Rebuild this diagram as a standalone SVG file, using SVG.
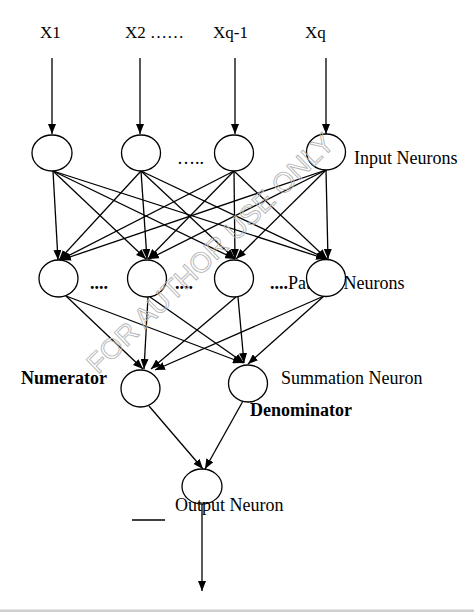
<svg xmlns="http://www.w3.org/2000/svg" width="474" height="612" viewBox="0 0 474 612">
<style>
.t{font-family:"Liberation Serif","Times New Roman",serif;font-size:18px;fill:#000}
.b{font-weight:bold}
.n{fill:#fff;stroke:#000;stroke-width:1.3}
.c line{stroke:#000;stroke-width:1.3}
.wm{font-family:"Liberation Sans",Arial,sans-serif;font-size:28px;fill:none;stroke:#b4b4b4;stroke-width:0.9}
</style>
<defs>
<marker id="ah" markerUnits="userSpaceOnUse" markerWidth="10" markerHeight="8" refX="10" refY="4" orient="auto">
<path d="M0,0 L10,4 L0,8 z" fill="#000"/>
</marker>
</defs>
<rect width="474" height="612" fill="#fff"/>
<rect x="0" y="609.5" width="474" height="2.5" fill="#cfcfcf"/>
<g id="labels">
<text class="t" x="40" y="38" style="font-size:17px">X1</text>
<text class="t" x="125" y="38" style="font-size:17px">X2 ……</text>
<text class="t" x="213" y="38" style="font-size:17px">Xq-1</text>
<text class="t" x="305" y="38" style="font-size:17px">Xq</text>
<text class="t" x="177" y="164">…..</text>
<text class="t" x="354" y="164">Input Neurons</text>
<text class="t b" x="90" y="289">....</text>
<text class="t b" x="175" y="289">....</text>
<text class="t" x="270" y="289"><tspan font-weight="bold">....</tspan>Pattern Neurons</text>
<text class="t b" x="21" y="384">Numerator</text>
<text class="t" x="281" y="384">Summation Neuron</text>
<text class="t b" x="250" y="416">Denominator</text>
</g>
<g id="connectors" class="c">
<line x1="52" y1="58" x2="52" y2="134" marker-end="url(#ah)"/>
<line x1="140" y1="58" x2="140" y2="134" marker-end="url(#ah)"/>
<line x1="235" y1="58" x2="235" y2="134" marker-end="url(#ah)"/>
<line x1="326" y1="58" x2="326" y2="134" marker-end="url(#ah)"/>
<line x1="53" y1="171" x2="58" y2="260" marker-end="url(#ah)"/>
<line x1="53" y1="171" x2="146" y2="259" marker-end="url(#ah)"/>
<line x1="53" y1="171" x2="235" y2="259" marker-end="url(#ah)"/>
<line x1="53" y1="171" x2="326" y2="259" marker-end="url(#ah)"/>
<line x1="141" y1="171" x2="59" y2="260" marker-end="url(#ah)"/>
<line x1="141" y1="171" x2="147" y2="259" marker-end="url(#ah)"/>
<line x1="141" y1="171" x2="235" y2="259" marker-end="url(#ah)"/>
<line x1="141" y1="171" x2="327" y2="259" marker-end="url(#ah)"/>
<line x1="234" y1="171" x2="60" y2="260" marker-end="url(#ah)"/>
<line x1="234" y1="171" x2="148" y2="259" marker-end="url(#ah)"/>
<line x1="234" y1="171" x2="235" y2="259" marker-end="url(#ah)"/>
<line x1="234" y1="171" x2="327" y2="259" marker-end="url(#ah)"/>
<line x1="326" y1="170" x2="61" y2="260" marker-end="url(#ah)"/>
<line x1="326" y1="170" x2="149" y2="259" marker-end="url(#ah)"/>
<line x1="326" y1="170" x2="236" y2="259" marker-end="url(#ah)"/>
<line x1="326" y1="170" x2="328" y2="259" marker-end="url(#ah)"/>
<line x1="66" y1="296" x2="143" y2="369" marker-end="url(#ah)"/>
<line x1="66" y1="296" x2="243" y2="363" marker-end="url(#ah)"/>
<line x1="148" y1="297" x2="144" y2="369" marker-end="url(#ah)"/>
<line x1="150" y1="297" x2="244" y2="363" marker-end="url(#ah)"/>
<line x1="236" y1="297" x2="151" y2="369" marker-end="url(#ah)"/>
<line x1="238" y1="297" x2="244" y2="363" marker-end="url(#ah)"/>
<line x1="324" y1="296" x2="155" y2="370" marker-end="url(#ah)"/>
<line x1="324" y1="296" x2="248" y2="364" marker-end="url(#ah)"/>
<line x1="149" y1="406" x2="203" y2="469" marker-end="url(#ah)"/>
<line x1="243" y1="401" x2="205" y2="469" marker-end="url(#ah)"/>
<line x1="202" y1="504" x2="202" y2="591" marker-end="url(#ah)"/>
<line x1="132" y1="520" x2="165" y2="520"/>
</g>
<g id="input-1"><ellipse class="n" cx="52" cy="153" rx="20" ry="18"/></g>
<g id="input-2"><ellipse class="n" cx="141" cy="153" rx="19.5" ry="18"/></g>
<g id="input-3"><ellipse class="n" cx="234" cy="153" rx="19.5" ry="18"/></g>
<g id="input-4"><ellipse class="n" cx="326" cy="152" rx="19.5" ry="18"/></g>
<g id="pattern-1"><ellipse class="n" cx="58.5" cy="278.5" rx="19.5" ry="18.5"/></g>
<g id="pattern-2"><ellipse class="n" cx="147" cy="278.5" rx="19.5" ry="18.5"/></g>
<g id="pattern-3"><ellipse class="n" cx="234" cy="278.5" rx="19.5" ry="18.5"/></g>
<g id="pattern-4"><ellipse class="n" cx="326" cy="278" rx="19.5" ry="18.5"/></g>
<g id="numerator"><ellipse class="n" cx="140.5" cy="388.5" rx="19.5" ry="18.5"/></g>
<g id="denominator"><ellipse class="n" cx="248" cy="383.5" rx="19.5" ry="18.5"/></g>
<g id="output"><ellipse class="n" cx="202" cy="486.5" rx="20" ry="17.5" style="fill:none"/>
<text class="t" x="175" y="511">Output Neuron</text></g>
<text class="wm" transform="translate(98,375) rotate(-44)">FOR AUTHOR USE ONLY</text>
</svg>
